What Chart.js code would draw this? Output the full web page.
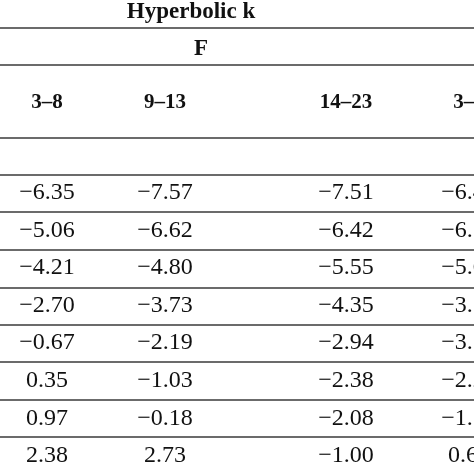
<!DOCTYPE html>
<html><head><meta charset="utf-8">
<script src="https://cdn.jsdelivr.net/npm/chart.js@4"></script>
<style>html,body{margin:0;padding:0;background:#fff}#w{width:474px;height:474px}</style>
</head><body><div id="w"><canvas id="c"></canvas></div>
<script>
const title = "Hyperbolic k";
const subTitle = "F";
const columns = ["3–8", "9–13", "14–23", "3–8"];
const col1 = ["−6.35", "−5.06", "−4.21", "−2.70", "−0.67", "0.35", "0.97", "2.38"];
const col2 = ["−7.57", "−6.62", "−4.80", "−3.73", "−2.19", "−1.03", "−0.18", "2.73"];
const col3 = ["−7.51", "−6.42", "−5.55", "−4.35", "−2.94", "−2.38", "−2.08", "−1.00"];
const col4 = ["−6.40", "−6.10", "−5.00", "−3.50", "−3.10", "−2.20", "−1.50", "0.60"];
const colX = [47, 165, 346, 469];
const rowY = [193, 231, 268, 306, 343, 381, 419, 456];
const lineY = [28, 65, 138, 175, 212, 250, 288, 325, 362, 400, 437];

const tablePlugin = {
  id: 'table',
  afterDraw(chart) {
    const ctx = chart.ctx, xs = chart.scales.x, ys = chart.scales.y;
    ctx.save();
    ctx.fillStyle = '#111';
    ctx.textAlign = 'center'; ctx.textBaseline = 'middle';
    ctx.strokeStyle = '#3a3a3a'; ctx.lineWidth = 1.5;
    lineY.forEach(v => { const y = ys.getPixelForValue(v); ctx.beginPath(); ctx.moveTo(0, y); ctx.lineTo(474, y); ctx.stroke(); });
    ctx.font = 'bold 23px "Liberation Serif"';
    ctx.fillText(title, xs.getPixelForValue(191), ys.getPixelForValue(12));
    ctx.fillText(subTitle, xs.getPixelForValue(201), ys.getPixelForValue(49));
    ctx.font = 'bold 21px "Liberation Serif"';
    columns.forEach((c, i) => ctx.fillText(c, xs.getPixelForValue(colX[i]), ys.getPixelForValue(103)));
    ctx.font = '24px "Liberation Serif"';
    [col1, col2, col3, col4].forEach((col, i) => col.forEach((v, r) =>
      ctx.fillText(v, xs.getPixelForValue(colX[i]), ys.getPixelForValue(rowY[r]))));
    ctx.restore();
  }
};
new Chart(document.getElementById('c'), {
  type: 'scatter',
  data: { datasets: [{ data: [] }] },
  options: {
    responsive: true, maintainAspectRatio: false, animation: false,
    layout: { padding: 0 },
    plugins: { legend: { display: false }, tooltip: { enabled: false } },
    scales: {
      x: { type: 'linear', min: 0, max: 474, display: false },
      y: { type: 'linear', min: 0, max: 474, reverse: true, display: false }
    }
  },
  plugins: [tablePlugin]
});
</script></body></html>
